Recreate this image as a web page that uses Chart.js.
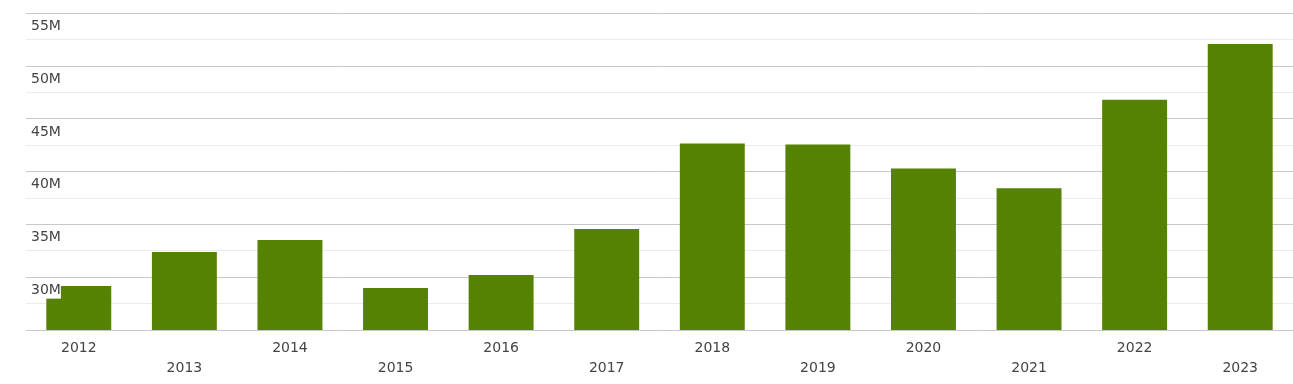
<!DOCTYPE html>
<html>
<head>
<meta charset="utf-8">
<script src="https://cdn.jsdelivr.net/npm/chart.js@4/dist/chart.umd.min.js"></script>
<style>
html,body{margin:0;padding:0;background:#fff;}
#wrap{width:1293px;height:384px;position:relative;}
</style>
</head>
<body>
<div id="wrap"><canvas id="c"></canvas></div>
<script>
const categories = ['2012','2013','2014','2015','2016','2017','2018','2019','2020','2021','2022','2023'];
const values = [29.18e6, 32.39e6, 33.52e6, 28.99e6, 30.22e6, 34.56e6, 42.67e6, 42.58e6, 40.31e6, 38.42e6, 46.82e6, 52.10e6];
const yMin = 25e6, yMax = 55e6, yStep = 2.5e6;

Chart.defaults.font.family = '"DejaVu Sans", sans-serif';
Chart.defaults.font.size = 14;
Chart.defaults.color = '#444';

function isMajor(v) { return Math.round(v / 1e5) % 50 === 0; }

new Chart(document.getElementById('c'), {
  type: 'bar',
  data: {
    labels: categories,
    datasets: [{
      data: values,
      backgroundColor: '#558203',
      borderWidth: 0,
      categoryPercentage: 1.0,
      barPercentage: 0.615
    }]
  },
  options: {
    responsive: true,
    maintainAspectRatio: false,
    animation: false,
    layout: { padding: { left: 26, top: 11, right: 0, bottom: -2 } },
    plugins: { legend: { display: false }, tooltip: { enabled: false } },
    scales: {
      x: {
        grid: { display: false, drawTicks: false },
        border: { display: false },
        ticks: {
          autoSkip: false,
          maxRotation: 0,
          padding: 8,
          font: { size: 14, lineHeight: '20px' },
          callback: function(v, i) {
            const l = categories[i];
            return i % 2 === 0 ? [l] : ['', l];
          }
        }
      },
      y: {
        min: yMin,
        max: yMax,
        afterFit: function(s) { s.width = 0; },
        grid: {
          drawTicks: false,
          color: function(ctx) {
            const v = ctx.tick ? ctx.tick.value : 0;
            return isMajor(v) ? '#c8c8c8' : '#ebebeb';
          }
        },
        border: { display: false },
        ticks: {
          z: 1,
          stepSize: yStep,
          mirror: true,
          padding: 5,
          labelOffset: 13,
          showLabelBackdrop: true,
          backdropColor: '#ffffff',
          backdropPadding: 0,
          font: { size: 14 },
          callback: function(v) {
            if (v <= yMin || !isMajor(v)) return '';
            return (v / 1e6) + 'M';
          }
        }
      }
    }
  }
});
</script>
</body>
</html>
